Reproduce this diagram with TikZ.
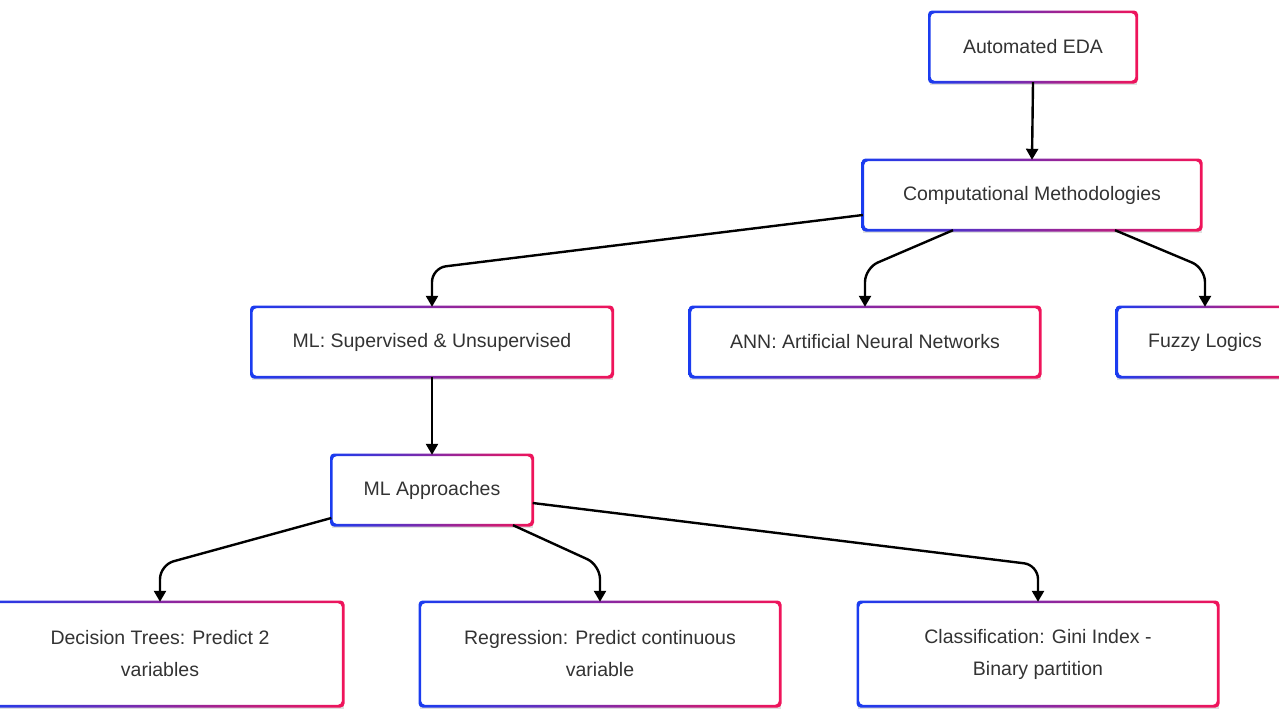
\documentclass[tikz,border=0pt]{standalone}
\usepackage{fontspec}
\setmainfont{Liberation Sans}
\usetikzlibrary{arrows.meta,calc}
\definecolor{bL}{HTML}{1A3CF0}
\definecolor{bR}{HTML}{F0145A}
\definecolor{txt}{HTML}{333333}
\tikzset{
  box/.style={inner sep=0pt, align=center, text=txt, font=\fontsize{19.5}{32}\selectfont},
  arr/.style={line width=2.4pt, black, rounded corners=14pt, -{Triangle[length=11pt,width=12pt]}}
}
\newcommand\gbox[6]{%
  \node[box, minimum width=#4pt, minimum height=#5pt] (#1) at (#2,#3) {#6};
  \fill[black!12] ([shift={(0.5pt,-3pt)}]#1.south west) rectangle ([shift={(0.5pt,-3pt)}]#1.north east);
  \fill[white] (#1.south west) rectangle (#1.north east);
  \shade[left color=bL, right color=bR, even odd rule, rounded corners=4pt]
    ([shift={(-1.3pt,-1.3pt)}]#1.south west) rectangle ([shift={(1.3pt,1.3pt)}]#1.north east)
    ([shift={(1.3pt,1.3pt)}]#1.south west) rectangle ([shift={(-1.3pt,-1.3pt)}]#1.north east);
  \node[box] at (#1.center) {#6};
}
\begin{document}
\begin{tikzpicture}[x=1pt,y=-1pt]
\useasboundingbox[fill=white] (0,0) rectangle (1279,720);
\gbox{eda}{1033}{47}{207}{70}{Automated EDA}
\gbox{comp}{1032}{195}{338}{70}{Computational Methodologies}
\gbox{ml}{432}{342}{361}{70}{ML: Supervised \& Unsupervised}
\gbox{ann}{865}{342}{350}{70}{ANN: Artificial Neural Networks}
\gbox{fuz}{1205}{342}{176}{70}{Fuzzy Logics}
\gbox{mla}{432}{490}{201}{70}{ML Approaches}
\gbox{dt}{160}{654}{366}{104}{Decision Trees: Predict 2\\variables}
\gbox{reg}{600}{654}{360}{104}{Regression: Predict continuous\\variable}
\gbox{cls}{1038}{654}{360}{104}{Classification: Gini Index -\\Binary partition}
\draw[arr] (eda.south) -- (comp.north);
\draw[arr] ($(comp.west)+(0,20)$) -- (432,268) -- (ml.north);
\draw[arr] ($(comp.south)+(-79,0)$) -- (865,268) -- (ann.north);
\draw[arr] ($(comp.south)+(83,0)$) -- (1205,268) -- (fuz.north);
\draw[arr] (ml.south) -- (mla.north);
\draw[arr] ($(mla.west)+(0,28)$) -- (160,565) -- (dt.north);
\draw[arr] ($(mla.south)+(81,0)$) -- (600,565) -- (reg.north);
\draw[arr] ($(mla.east)+(0,13)$) -- (1038,565) -- (cls.north);
\end{tikzpicture}
\end{document}
